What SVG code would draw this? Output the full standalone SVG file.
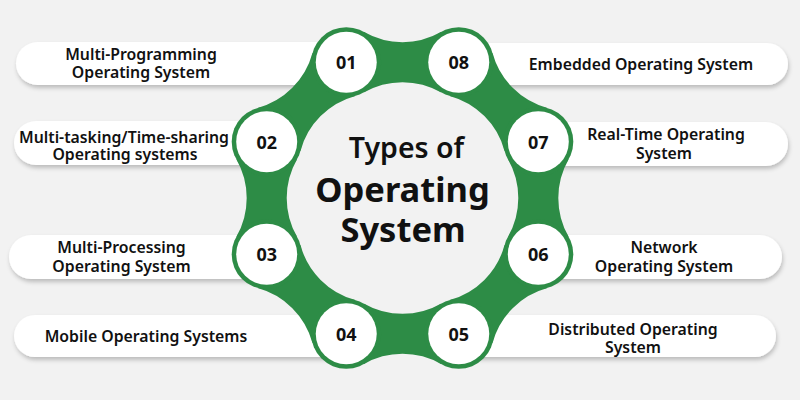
<svg xmlns="http://www.w3.org/2000/svg" xmlns:xlink="http://www.w3.org/1999/xlink" width="800" height="400" viewBox="0 0 800 400">
  <style>
    .pill { fill: #ffffff; filter: url(#sh); }
    .lbl { font-family: "Noto Sans", "Open Sans", "Liberation Sans", sans-serif; font-size: 15.8px; font-weight: 600; fill: #111; text-anchor: middle; }
    .ring { fill: #2d8c46; }
    .hole { fill: #ffffff; }
    .num { font-family: "Noto Sans", "Liberation Sans", sans-serif; font-size: 18px; font-weight: 700; fill: #111; text-anchor: middle; dominant-baseline: central; }
    .title { font-family: "Noto Sans", "Liberation Sans", sans-serif; fill: #111; text-anchor: middle; }
  </style>
  <defs>
    <filter id="sh" x="-10%" y="-30%" width="120%" height="180%">
      <feDropShadow dx="1" dy="3" stdDeviation="2" flood-color="#000" flood-opacity="0.22"/>
    </filter>
    <path id="bridge" d="M -38.83,-166.16 A 78 78 0 0 0 38.83,-166.16 L 38.83,-105.44 A 78 78 0 0 0 -38.83,-105.44 Z"/>
  </defs>
  <rect width="800" height="400" fill="#f2f2f2"/>

  <g id="label-01"><rect class="pill" x="16" y="42" width="330" height="43" rx="21.5"/>
    <text class="lbl" x="141" y="60">Multi-Programming</text>
    <text class="lbl" x="141" y="78">Operating System</text></g>
  <g id="label-02"><rect class="pill" x="14" y="121" width="276" height="44" rx="22"/>
    <text class="lbl" x="124" y="143">Multi-tasking/Time-sharing</text>
    <text class="lbl" x="125" y="160">Operating systems</text></g>
  <g id="label-03"><rect class="pill" x="9" y="235" width="276" height="44" rx="22"/>
    <text class="lbl" x="121.5" y="253">Multi-Processing</text>
    <text class="lbl" x="121.5" y="271.5">Operating System</text></g>
  <g id="label-04"><rect class="pill" x="14" y="315" width="330" height="42" rx="21"/>
    <text class="lbl" x="146" y="341.5">Mobile Operating Systems</text></g>
  <g id="label-08"><rect class="pill" x="460" y="43" width="328" height="42" rx="21"/>
    <text class="lbl" x="641" y="69.5">Embedded Operating System</text></g>
  <g id="label-07"><rect class="pill" x="520" y="122" width="268" height="44" rx="22"/>
    <text class="lbl" x="666" y="140">Real-Time Operating</text>
    <text class="lbl" x="664" y="158.5">System</text></g>
  <g id="label-06"><rect class="pill" x="520" y="235" width="262" height="44" rx="22"/>
    <text class="lbl" x="664" y="252.5">Network</text>
    <text class="lbl" x="664" y="271.5">Operating System</text></g>
  <g id="label-05"><rect class="pill" x="460" y="315" width="316" height="42" rx="21"/>
    <text class="lbl" x="633" y="335">Distributed Operating</text>
    <text class="lbl" x="633" y="353">System</text></g>

  <g transform="translate(402.5,198)">
    <g id="connectors" class="ring">
      <use xlink:href="#bridge"/>
      <use xlink:href="#bridge" transform="rotate(45)"/>
      <use xlink:href="#bridge" transform="rotate(90)"/>
      <use xlink:href="#bridge" transform="rotate(135)"/>
      <use xlink:href="#bridge" transform="rotate(180)"/>
      <use xlink:href="#bridge" transform="rotate(225)"/>
      <use xlink:href="#bridge" transform="rotate(270)"/>
      <use xlink:href="#bridge" transform="rotate(315)"/>
    </g>
    <g id="node-01"><circle class="ring" cx="-56.25" cy="-135.8" r="35"/><circle class="hole" cx="-56.25" cy="-135.8" r="30.5"/><text class="num" x="-56.25" y="-135.8">01</text></g>
    <g id="node-08"><circle class="ring" cx="56.25" cy="-135.8" r="35"/><circle class="hole" cx="56.25" cy="-135.8" r="30.5"/><text class="num" x="56.25" y="-135.8">08</text></g>
    <g id="node-02"><circle class="ring" cx="-135.8" cy="-56.25" r="35"/><circle class="hole" cx="-135.8" cy="-56.25" r="30.5"/><text class="num" x="-135.8" y="-56.25">02</text></g>
    <g id="node-07"><circle class="ring" cx="135.8" cy="-56.25" r="35"/><circle class="hole" cx="135.8" cy="-56.25" r="30.5"/><text class="num" x="135.8" y="-56.25">07</text></g>
    <g id="node-03"><circle class="ring" cx="-135.8" cy="56.25" r="35"/><circle class="hole" cx="-135.8" cy="56.25" r="30.5"/><text class="num" x="-135.8" y="56.25">03</text></g>
    <g id="node-06"><circle class="ring" cx="135.8" cy="56.25" r="35"/><circle class="hole" cx="135.8" cy="56.25" r="30.5"/><text class="num" x="135.8" y="56.25">06</text></g>
    <g id="node-04"><circle class="ring" cx="-56.25" cy="135.8" r="35"/><circle class="hole" cx="-56.25" cy="135.8" r="30.5"/><text class="num" x="-56.25" y="135.8">04</text></g>
    <g id="node-05"><circle class="ring" cx="56.25" cy="135.8" r="35"/><circle class="hole" cx="56.25" cy="135.8" r="30.5"/><text class="num" x="56.25" y="135.8">05</text></g>
  </g>

  <g id="title">
    <text class="title" x="406.5" y="157.5" font-size="28.5" font-weight="600">Types of</text>
    <text class="title" x="402.5" y="201.5" font-size="34.5" font-weight="700">Operating</text>
    <text class="title" x="403" y="241.5" font-size="34.5" font-weight="700">System</text>
  </g>
</svg>
